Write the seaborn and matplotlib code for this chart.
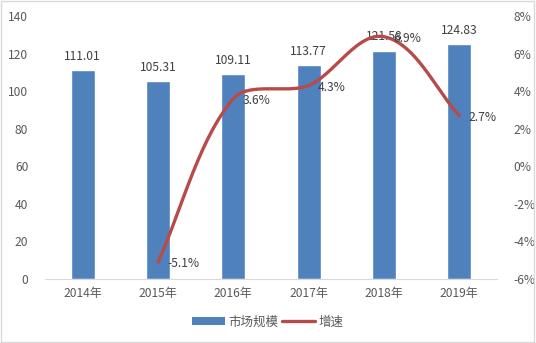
import numpy as np
import pandas as pd
import matplotlib
matplotlib.use("Agg")
import matplotlib.pyplot as plt
import seaborn as sns
from matplotlib.patches import Rectangle
from matplotlib.lines import Line2D
from matplotlib.patches import Patch

years = ["2014年", "2015年", "2016年", "2017年", "2018年", "2019年"]
market = [111.01, 105.31, 109.11, 113.77, 121.58, 124.83]
growth_years = ["2015年", "2016年", "2017年", "2018年", "2019年"]
growth = [-5.1, 3.6, 4.3, 6.9, 2.7]
left_ticks = [0, 20, 40, 60, 80, 100, 120, 140]
right_ticks = [-6, -4, -2, 0, 2, 4, 6, 8]

sns.set_theme(style="white")
plt.rcParams['font.family'] = ['Noto Sans CJK SC', 'DejaVu Sans']

BAR = "#4F81BD"
LINE = "#B84B49"
TXT = "#595959"
FS = 8.7

fig = plt.figure(figsize=(5.36, 3.43), dpi=100)
ax = fig.add_axes([45/536, 64/343, 452/536, 263/343])

df = pd.DataFrame({"year": years, "market": market})
sns.barplot(data=df, x="year", y="market", color=BAR, width=0.32, ax=ax, saturation=1)
ax.set_ylim(0, 140)
ax.set_yticks(left_ticks)
ax.set_xlim(-0.5, len(years) - 0.5)
ax.set_xlabel("")
ax.set_ylabel("")
for s in ["top", "right", "left"]:
    ax.spines[s].set_visible(False)
ax.spines["bottom"].set_color("#D9D9D9")
ax.spines["bottom"].set_linewidth(0.8)
ax.tick_params(axis="both", length=0, labelsize=FS, colors=TXT, pad=6)
ax.tick_params(axis="y", pad=12)
for i, v in enumerate(market):
    ax.text(i, v + 4, f"{v:.2f}", ha="center", va="bottom", fontsize=FS, color="#404040")

ax2 = ax.twinx()
ax2.set_ylim(-6, 8)
ax2.set_yticks(right_ticks)
ax2.set_yticklabels([f"{t}%" for t in right_ticks])
for s in ["top", "right", "left", "bottom"]:
    ax2.spines[s].set_visible(False)
ax2.tick_params(axis="y", length=0, labelsize=FS, colors=TXT, pad=12)
ax2.grid(False)
ax.grid(False)

# smooth line (Excel-like bezier smoothing with segment-length-limited handles)
gx = np.array([years.index(y) for y in growth_years], dtype=float)
gy = np.array(growth, dtype=float)
sx = 75.4
sy = 263 / 14
P = np.column_stack([gx * sx, gy * sy])
n = len(P)
tang = []
for i in range(n):
    a = P[max(i - 1, 0)]
    b = P[min(i + 1, n - 1)]
    d = b - a
    tang.append(d / np.linalg.norm(d))
tang = np.array(tang)
s_h = 0.3
curve = []
t = np.linspace(0, 1, 50)
for i in range(n - 1):
    p1, p2 = P[i], P[i + 1]
    L = np.linalg.norm(p2 - p1)
    c1 = p1 + tang[i] * L * s_h
    c2 = p2 - tang[i + 1] * L * s_h
    seg = ((1 - t) ** 3)[:, None] * p1 + (3 * (1 - t) ** 2 * t)[:, None] * c1 + \
          (3 * (1 - t) * t ** 2)[:, None] * c2 + (t ** 3)[:, None] * p2
    curve.append(seg)
curve = np.vstack(curve)
cdf = pd.DataFrame({"x": curve[:, 0] / sx, "y": curve[:, 1] / sy})
sns.lineplot(data=cdf, x="x", y="y", sort=False, color=LINE, linewidth=2.4, ax=ax2, estimator=None)
ax2.set_xlim(-0.5, len(years) - 0.5)
ax2.set_xlabel("")
ax2.set_ylabel("")

for x, y in zip(gx, gy):
    ax2.text(x + 0.12, y - 0.1, f"{y}%", ha="left", va="center", fontsize=FS, color="#404040")

handles = [Patch(facecolor=BAR, edgecolor="none"), Line2D([0], [0], color=LINE, linewidth=2.4)]
fig.legend(handles, ["市场规模", "增速"], loc="center", bbox_to_anchor=(0.5, 21/343), ncol=2,
           frameon=False, fontsize=FS + 0.3, handlelength=2.6, handleheight=0.6, columnspacing=0.3,
           handletextpad=0.3, labelcolor=TXT)

fig.patches.append(Rectangle((0.002, 0.003), 0.995, 0.994, transform=fig.transFigure,
                             fill=False, edgecolor="#D9D9D9", linewidth=1))

fig.savefig("out.png", dpi=100)
